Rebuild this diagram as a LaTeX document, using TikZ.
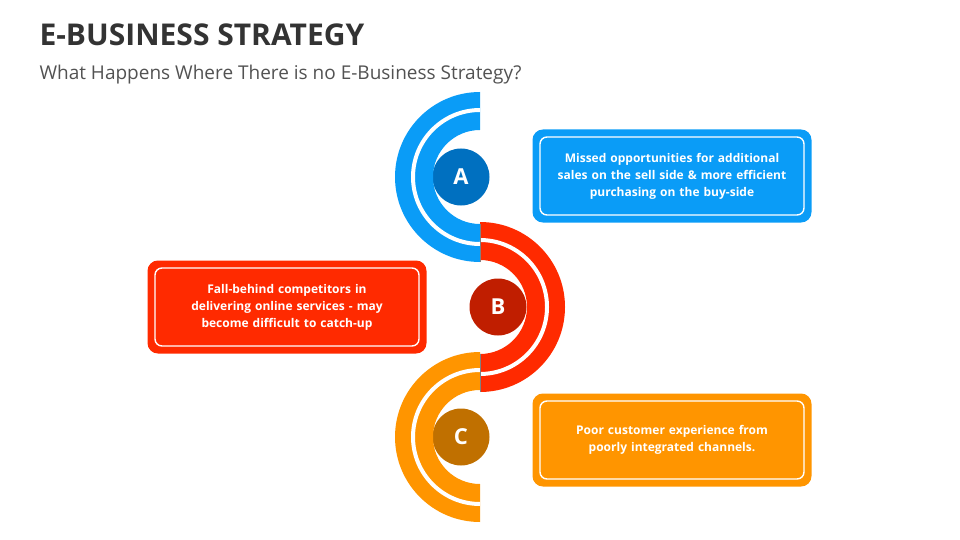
\documentclass[tikz,border=0pt]{standalone}
\usepackage{fontspec}
\setmainfont{Open Sans}
\usetikzlibrary{calc}
\definecolor{cblue}{HTML}{0A9CF7}
\definecolor{dblue}{HTML}{0070C0}
\definecolor{cred}{HTML}{FF2A00}
\definecolor{dred}{HTML}{C01E00}
\definecolor{corange}{HTML}{FF9500}
\definecolor{dorange}{HTML}{C07000}
\definecolor{ttl}{HTML}{333333}
\tikzset{
  infobox/.style={draw=#1,fill=#1,line width=3pt,rounded corners=9pt,minimum width=276pt,minimum height=90pt},
  innerbox/.style={draw=white,line width=1.4pt,rounded corners=7pt,minimum width=264pt,minimum height=78pt},
  boxtext/.style={text=white,font=\bfseries\fontsize{12}{17}\selectfont,align=center,text width=250pt},
  letter/.style={circle,fill=#1,minimum size=57pt,text=white,font=\bfseries\fontsize{22}{22}\selectfont},
  whiteline/.style={draw=white,line width=4pt}
}
\begin{document}
\begin{tikzpicture}[x=1pt,y=1pt]
\useasboundingbox (0,0) rectangle (960,-540);
\node[anchor=west,text=ttl,font=\bfseries\fontsize{30}{30}\selectfont] (title) at (36,-35) {E-BUSINESS STRATEGY};
\node[anchor=west,text=ttl!85,font=\fontsize{19}{19}\selectfont] (sub) at (36,-75) {What Happens Where There is no E-Business Strategy?};
% circles
\node[letter=dblue] (ca) at (461,-177) {A};
\node[letter=dred] (cb) at (498,-307) {B};
\node[letter=dorange] (cc) at (461,-437) {C};
% arcs
\fill[cblue] (480,-92) arc[start angle=90,end angle=270,radius=85] -- (480,-224) arc[start angle=270,end angle=90,radius=47] -- cycle;
\draw[whiteline] (480,-110) arc[start angle=90,end angle=270,radius=67];
\fill[cred] (480,-222) arc[start angle=90,end angle=-90,radius=85] -- (480,-354) arc[start angle=-90,end angle=90,radius=47] -- cycle;
\draw[whiteline] (480,-240) arc[start angle=90,end angle=-90,radius=67];
\fill[corange] (480,-352) arc[start angle=90,end angle=270,radius=85] -- (480,-484) arc[start angle=270,end angle=90,radius=47] -- cycle;
\draw[whiteline] (480,-370) arc[start angle=90,end angle=270,radius=67];
\draw[gray,line width=1pt] (480,-224) -- (480,-262);
\draw[gray,line width=1pt] (480,-354) -- (480,-392);
% boxes
\node[infobox=cblue] (ba) at (672,-176) {};
\node[innerbox] (ia) at (ba.center) {};
\node[boxtext] (ta) at (ba.center) {Missed opportunities for additional\\sales on the sell side \& more efficient\\purchasing on the buy-side};
\node[infobox=cred] (bb) at (287,-307) {};
\node[innerbox] (ib) at (bb.center) {};
\node[boxtext] (tb) at (bb.center) {Fall-behind competitors in\\delivering online services - may\\become difficult to catch-up};
\node[infobox=corange] (bc) at (672,-440) {};
\node[innerbox] (ic) at (bc.center) {};
\node[boxtext] (tc) at (bc.center) {Poor customer experience from\\poorly integrated channels.};
\end{tikzpicture}
\end{document}
